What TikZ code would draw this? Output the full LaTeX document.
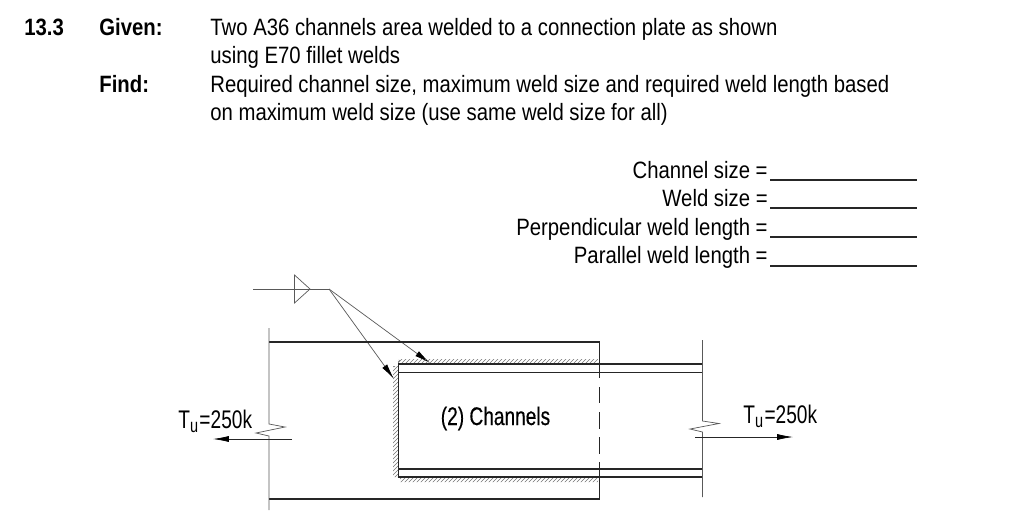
\documentclass[tikz,border=0pt]{standalone}
\usepackage{fontspec}
\setmainfont{Liberation Sans}[FakeStretch=0.86]
\newfontfamily\narrowfont{Liberation Sans}[FakeStretch=0.75]
\newfontfamily\narrowbold{Liberation Sans}[FakeStretch=0.75,FakeBold=0.4]
\usepackage{tikz}
\usetikzlibrary{arrows.meta}
\newcommand{\tsub}{T\raisebox{-2.6pt}{\fontsize{11}{11}\selectfont u}\kern0.8pt}
\tikzset{
    txt/.style={anchor=base west, inner sep=0pt, font=\fontsize{13.45}{15}\selectfont},
    txtb/.style={txt, font=\fontsize{13.45}{15}\selectfont\bfseries},
    lbl/.style={anchor=base east, inner sep=0pt, font=\fontsize{13.45}{15}\selectfont},
    load/.style={anchor=base west, inner sep=0pt, font=\fontsize{14.5}{15}\narrowfont},
    steel/.style={line width=0.7pt, black!85},
    thin line/.style={line width=0.4pt, black!65},
    hatch/.style={line width=0.3pt, black!55},
    tip/.style={-{Latex[length=9pt,width=3.4pt,black]}}
}
\begin{document}
\begin{tikzpicture}[x=0.02cm, y=-0.02cm]
    \useasboundingbox (0,0) rectangle (1024,525);

    \node[txtb] (num) at (24,35) {13.3};
    \node[txtb] (given) at (99,35) {Given:};
    \node[txtb] (find) at (99,92) {Find:};
    \node[txt] (g1) at (210,35) {Two A36 channels area welded to a connection plate as shown};
    \node[txt] (g2) at (210,63) {using E70 fillet welds};
    \node[txt] (f1) at (210,92) {Required channel size, maximum weld size and required weld length based};
    \node[txt] (f2) at (210,120) {on maximum weld size (use same weld size for all)};

    \node[lbl] (l1) at (768,178) {Channel size =};
    \node[lbl] (l2) at (768,206) {Weld size =};
    \node[lbl] (l3) at (768,235) {Perpendicular weld length =};
    \node[lbl] (l4) at (768,263) {Parallel weld length =};
    \foreach \y in {180,208,237,266}
        \draw[steel] (770,\y) -- (917,\y);

    \coordinate (ref) at (253,289);
    \coordinate (kink) at (329,289);
    \coordinate (topweld) at (430,363);
    \coordinate (sideweld) at (394,379);
    \draw[thin line] (ref) -- (kink);
    \draw[thin line] (294.5,275) -- (310,289) -- (294.5,303) -- cycle;
    \draw[thin line, tip] (kink) -- (topweld);
    \draw[thin line, tip] (kink) -- (sideweld);

    \begin{scope}
        \clip (398,359) rectangle (598,364.5) (393,366) rectangle (398,477) (400,477.5) rectangle (598,482);
        \foreach \i in {0,...,54}
            \draw[hatch] (390+\i*4,367) -- ++(10,-10);
        \foreach \i in {0,...,54}
            \draw[hatch] (390+\i*4,485) -- ++(10,-10);
        \foreach \i in {0,...,32}
            \draw[hatch] (390,366+\i*4) -- ++(10,-10);
    \end{scope}

    \draw[steel] (269,342) -- (599.5,342) -- (599.5,378);
    \draw[steel] (269,499) -- (599.5,499) -- (599.5,462);
    \draw[steel] (703,364) -- (398.5,364) -- (398.5,477) -- (703,477);
    \draw[steel] (703,372.5) -- (398.5,372.5);
    \draw[steel] (703,469) -- (398.5,469);
    \foreach \a/\b in {387/403,412/429,437/454}
        \draw[steel] (599.5,\a) -- (599.5,\b);

    \draw[thin line] (269,328) -- (269,424) -- (285,427) -- (256,433) -- (269,436) -- (269,510);
    \draw[thin line] (702.5,340) -- (702.5,421) -- (719,423.5) -- (690,429) -- (702.5,432) -- (702.5,497);

    \coordinate (leftfrom) at (292,439);
    \coordinate (leftto) at (213,439);
    \coordinate (rightfrom) at (695,437);
    \coordinate (rightto) at (793,437);
    \draw[thin line, black!85, tip] (leftfrom) -- (leftto);
    \draw[thin line, black!85, tip] (rightfrom) -- (rightto);

    \node[load] (tleft) at (178,428) {\tsub=250k};
    \node[load] (tright) at (743,423) {\tsub=250k};
    \node[load, anchor=base, font=\fontsize{14.5}{15}\narrowbold] (chan) at (495.5,425) {(2) Channels};
\end{tikzpicture}
\end{document}
